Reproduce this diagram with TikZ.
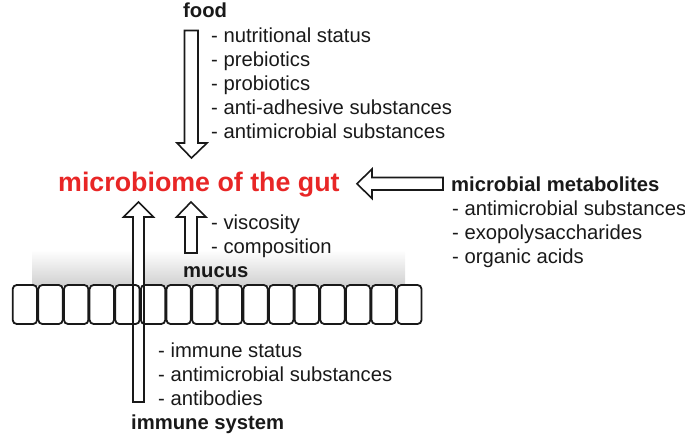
\documentclass[tikz,border=0pt]{standalone}
\usepackage{fontspec}
\setmainfont{Liberation Sans}
\definecolor{gutred}{RGB}{232,38,38}
\definecolor{txt}{RGB}{25,25,25}
\begin{document}
\begin{tikzpicture}[x=1pt,y=-1pt,
  lbl/.style={anchor=base west,inner sep=0pt,text=txt,font=\fontsize{20.25}{24}\selectfont},
  hd/.style={lbl,font=\fontsize{20.25}{24}\selectfont\bfseries},
  blockarrow/.style={draw=txt,line width=1.6pt,fill=white,line join=miter},
  cellbox/.style={draw=txt,line width=1.8pt,rounded corners=4pt}]
\useasboundingbox (0,0) rectangle (685,436);
% mucus band
\shade[top color=white,bottom color=black!18] (32,250) rectangle (405,285);
% food (down)
\draw[blockarrow] (184.5,30.5) -- (198,30.5) -- (198,143) -- (207,143) -- (191.5,158) -- (177,143) -- (184.5,143) -- cycle;
% mucus (up)
\draw[blockarrow] (185,253) -- (197,253) -- (197,217) -- (206,217) -- (191,202) -- (176.5,217) -- (185,217) -- cycle;
% immune (up)
\draw[blockarrow] (133,402) -- (144,402) -- (144,217) -- (153.5,217) -- (138.5,202) -- (123.5,217) -- (133,217) -- cycle;
% metabolites (left)
\draw[blockarrow] (443,177.5) -- (443,190) -- (372,190) -- (372,198.5) -- (357,183.75) -- (372,169) -- (372,177.5) -- cycle;
% cells
\foreach \i in {0,...,15}{
  \draw[cellbox] ({12.7+\i*25.63},285) rectangle ({12.7+\i*25.63+24.4},324);
}
% texts
\node[hd] (food) at (183,18) {food};
\node[lbl] (f1) at (211,42.5) {- nutritional status};
\node[lbl] (f2) at (211,66.5) {- prebiotics};
\node[lbl] (f3) at (211,90.5) {- probiotics};
\node[lbl] (f4) at (211,114.5) {- anti-adhesive substances};
\node[lbl] (f5) at (211,138.5) {- antimicrobial substances};
\node[anchor=base west,inner sep=0pt,text=gutred,font=\fontsize{26.8}{30}\selectfont\bfseries] (gut) at (58,191.5) {microbiome of the gut};
\node[hd] (met) at (451,191.5) {microbial metabolites};
\node[lbl] (m1) at (452,215.5) {- antimicrobial substances};
\node[lbl] (m2) at (452,239.5) {- exopolysaccharides};
\node[lbl] (m3) at (452,263.5) {- organic acids};
\node[lbl] (u1) at (211,229) {- viscosity};
\node[lbl] (u2) at (211,253.5) {- composition};
\node[hd] (mucus) at (183,277.5) {mucus};
\node[lbl] (i1) at (158,357) {- immune status};
\node[lbl] (i2) at (158,381) {- antimicrobial substances};
\node[lbl] (i3) at (158,405) {- antibodies};
\node[hd] (imm) at (131,429) {immune system};
\end{tikzpicture}
\end{document}
